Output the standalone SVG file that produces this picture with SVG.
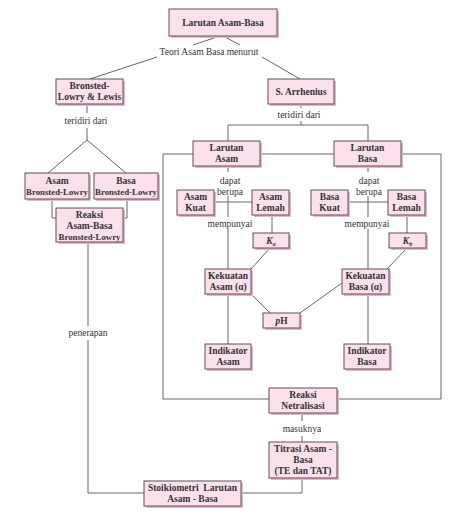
<svg xmlns="http://www.w3.org/2000/svg" width="474" height="513" viewBox="0 0 474 513">
<defs>
<style>
.sh{fill:#eeb2cb;}
.bx{fill:#fce0ec;stroke:#555;stroke-width:1;}
.t{font-family:"Liberation Serif","Times New Roman",serif;font-weight:bold;font-size:9.5px;fill:#333;text-anchor:middle;}
.s{font-size:8.8px;}
.l{font-family:"Liberation Serif","Times New Roman",serif;font-size:9.5px;fill:#333;text-anchor:middle;}
.c{fill:none;stroke:#666;stroke-width:1;}
</style>
</defs>
<rect width="474" height="513" fill="#fff"/>
<g id="connectors">
<path class="c" d="M220,36 L193,45 M223,36 L240,45 M157,57 L90,79 M262,57 L300,79"/>
<path class="c" d="M87,104 V113 M87,128 V140 L48,173 M87,140 L126,173"/>
<path class="c" d="M52,199 V218 H56 M127,199 V218 H123"/>
<path class="c" d="M88,242 V326 M88,340 V493 H144"/>
<path class="c" d="M301,104 V108 M301,121 V125 M228,141 V125 H368 V141"/>
<path class="c" d="M260,154 H334 M193,154 H163 V399 H269 M337,399 H441 V154 H401"/>
<path class="c" d="M228,166 V172 M228,196 V217 M228,229 V269 M228,294 V344"/>
<path class="c" d="M368,166 V172 M368,196 V217 M368,229 V269 M368,294 V344"/>
<path class="c" d="M214,202 H252 M348,202 H388"/>
<path class="c" d="M272,215 V233 M407,215 V233"/>
<path class="c" d="M270,248 L251,269 M407,248 L387,269"/>
<path class="c" d="M252,295 L270,313 M342,283 L300,313"/>
<path class="c" d="M302,413 V421 M302,436 V442 M302,478 V493 H241"/>
</g>
<g id="labels">
<text class="l" x="209" y="55">Teori Asam Basa menurut</text>
<text class="l" x="86" y="124">teridiri dari</text>
<text class="l" x="299" y="118">teridiri dari</text>
<text class="l" x="230" y="184">dapat</text>
<text class="l" x="230" y="195">berupa</text>
<text class="l" x="230" y="227">mempunyai</text>
<text class="l" x="369" y="184">dapat</text>
<text class="l" x="369" y="195">berupa</text>
<text class="l" x="367" y="227">mempunyai</text>
<text class="l" x="88" y="336">penerapan</text>
<text class="l" x="302" y="432">masuknya</text>
</g>
<g id="n-top"><rect class="sh" x="171" y="11" width="108" height="27"/><rect class="bx" x="169" y="9" width="108" height="27"/><text class="t" x="223" y="25.5">Larutan Asam-Basa</text></g>
<g id="n-bl"><rect class="sh" x="58" y="81" width="67" height="25"/><rect class="bx" x="56" y="79" width="67" height="25"/><text class="t" x="89.5" y="89">Bronsted-</text><text class="t" x="89.5" y="100">Lowry &amp; Lewis</text></g>
<g id="n-arr"><rect class="sh" x="270" y="81" width="66" height="25"/><rect class="bx" x="268" y="79" width="66" height="25"/><text class="t" x="301" y="95">S. Arrhenius</text></g>
<g id="n-asambl"><rect class="sh" x="27" y="175" width="64" height="26"/><rect class="bx" x="25" y="173" width="64" height="26"/><text class="t" x="57" y="184">Asam</text><text class="t s" x="57" y="195">Bronsted-Lowry</text></g>
<g id="n-basabl"><rect class="sh" x="96" y="175" width="64" height="26"/><rect class="bx" x="94" y="173" width="64" height="26"/><text class="t" x="126" y="184">Basa</text><text class="t s" x="126" y="195">Bronsted-Lowry</text></g>
<g id="n-reaksibl"><rect class="sh" x="58" y="210" width="67" height="34"/><rect class="bx" x="56" y="208" width="67" height="34"/><text class="t" x="89.5" y="217.5">Reaksi</text><text class="t" x="89.5" y="228.5">Asam-Basa</text><text class="t s" x="89.5" y="239.5">Bronsted-Lowry</text></g>
<g id="n-larasam"><rect class="sh" x="195" y="143" width="67" height="25"/><rect class="bx" x="193" y="141" width="67" height="25"/><text class="t" x="226.5" y="151">Larutan</text><text class="t" x="226.5" y="162">Asam</text></g>
<g id="n-larbasa"><rect class="sh" x="336" y="143" width="67" height="25"/><rect class="bx" x="334" y="141" width="67" height="25"/><text class="t" x="367.5" y="151">Larutan</text><text class="t" x="367.5" y="162">Basa</text></g>
<g id="n-asamkuat"><rect class="sh" x="179" y="192" width="37" height="25"/><rect class="bx" x="177" y="190" width="37" height="25"/><text class="t" x="195.5" y="200">Asam</text><text class="t" x="195.5" y="211">Kuat</text></g>
<g id="n-asamlemah"><rect class="sh" x="254" y="192" width="37" height="25"/><rect class="bx" x="252" y="190" width="37" height="25"/><text class="t" x="270.5" y="200">Asam</text><text class="t" x="270.5" y="211">Lemah</text></g>
<g id="n-basakuat"><rect class="sh" x="313" y="192" width="37" height="25"/><rect class="bx" x="311" y="190" width="37" height="25"/><text class="t" x="329.5" y="200">Basa</text><text class="t" x="329.5" y="211">Kuat</text></g>
<g id="n-basalemah"><rect class="sh" x="390" y="192" width="37" height="25"/><rect class="bx" x="388" y="190" width="37" height="25"/><text class="t" x="406.5" y="200">Basa</text><text class="t" x="406.5" y="211">Lemah</text></g>
<g id="n-ka"><rect class="sh" x="255" y="235" width="36" height="15"/><rect class="bx" x="253" y="233" width="36" height="15"/><text class="t" x="271" y="244" font-style="italic">K<tspan font-size="6" dy="2">a</tspan></text></g>
<g id="n-kb"><rect class="sh" x="391" y="235" width="37" height="15"/><rect class="bx" x="389" y="233" width="37" height="15"/><text class="t" x="407.5" y="244" font-style="italic">K<tspan font-size="6" dy="2">b</tspan></text></g>
<g id="n-kekasam"><rect class="sh" x="207" y="271" width="46" height="25"/><rect class="bx" x="205" y="269" width="46" height="25"/><text class="t" x="228" y="279">Kekuatan</text><text class="t" x="228" y="290">Asam (α)</text></g>
<g id="n-kekbasa"><rect class="sh" x="344" y="271" width="47" height="25"/><rect class="bx" x="342" y="269" width="47" height="25"/><text class="t" x="365.5" y="279">Kekuatan</text><text class="t" x="365.5" y="290">Basa (α)</text></g>
<g id="n-ph"><rect class="sh" x="265" y="315" width="37" height="15"/><rect class="bx" x="263" y="313" width="37" height="15"/><text class="t" x="281.5" y="324"><tspan font-style="italic">p</tspan>H</text></g>
<g id="n-indasam"><rect class="sh" x="207" y="346" width="46" height="25"/><rect class="bx" x="205" y="344" width="46" height="25"/><text class="t" x="228" y="354">Indikator</text><text class="t" x="228" y="365">Asam</text></g>
<g id="n-indbasa"><rect class="sh" x="346" y="346" width="46" height="25"/><rect class="bx" x="344" y="344" width="46" height="25"/><text class="t" x="367" y="354">Indikator</text><text class="t" x="367" y="365">Basa</text></g>
<g id="n-netral"><rect class="sh" x="271" y="390" width="68" height="25"/><rect class="bx" x="269" y="388" width="68" height="25"/><text class="t" x="303" y="398">Reaksi</text><text class="t" x="303" y="409">Netralisasi</text></g>
<g id="n-titrasi"><rect class="sh" x="271" y="444" width="68" height="36"/><rect class="bx" x="269" y="442" width="68" height="36"/><text class="t" x="303" y="452">Titrasi Asam -</text><text class="t" x="303" y="463">Basa</text><text class="t" x="303" y="474">(TE dan TAT)</text></g>
<g id="n-stoik"><rect class="sh" x="146" y="483" width="97" height="25"/><rect class="bx" x="144" y="481" width="97" height="25"/><text class="t" x="192.5" y="491" xml:space="preserve">Stoikiometri  Larutan</text><text class="t" x="192.5" y="502">Asam - Basa</text></g>
</svg>
